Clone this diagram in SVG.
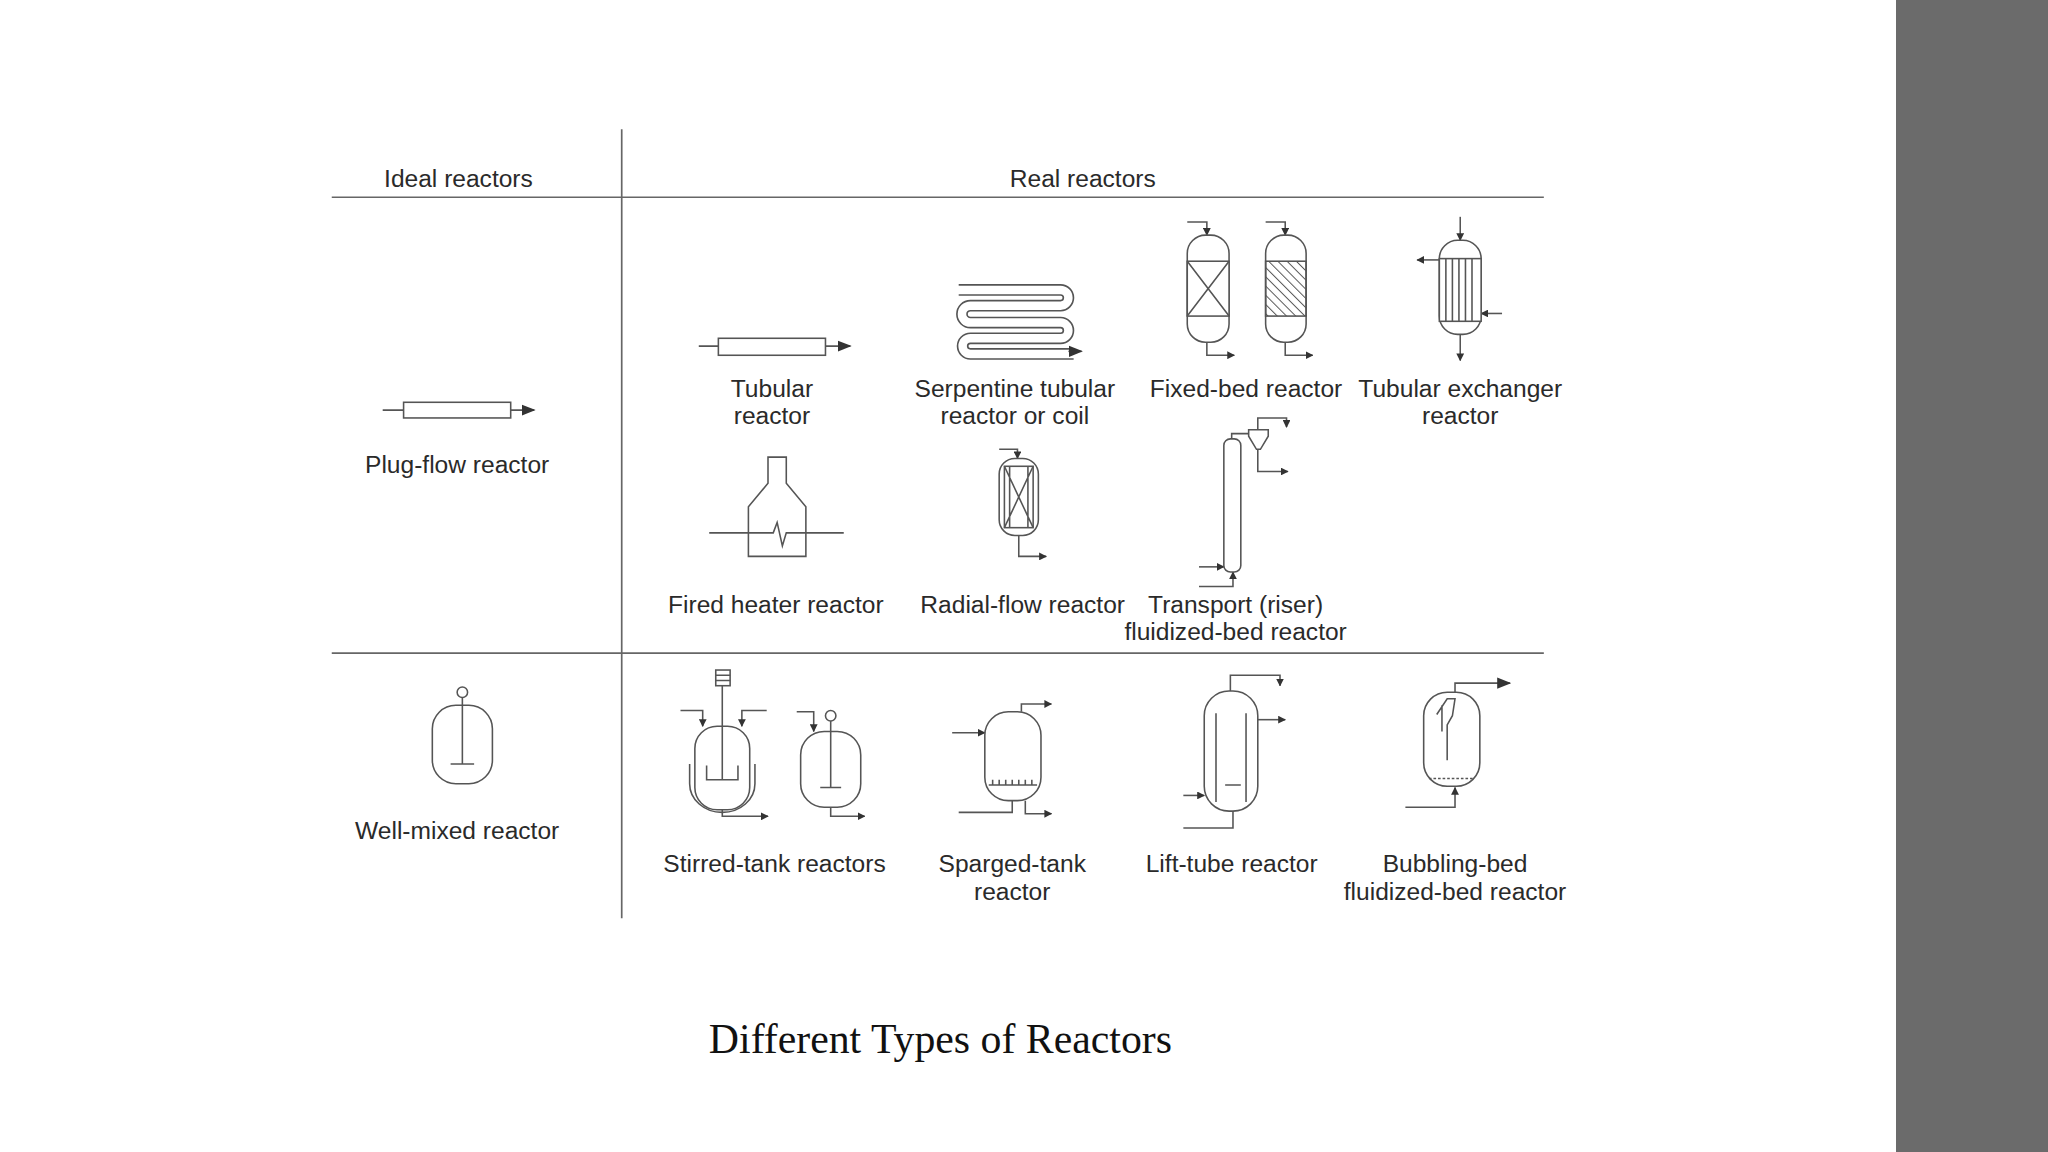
<svg xmlns="http://www.w3.org/2000/svg" width="2048" height="1152" viewBox="0 0 2048 1152">
<style>
.t{font-family:"Liberation Sans",Arial,sans-serif;font-size:18.8px;fill:#2a2a2a;text-anchor:middle}
.s{fill:none;stroke:#555;stroke-width:1.2}
.f{fill:#fff;stroke:#555;stroke-width:1.2}
.g{stroke:#666;stroke-width:1.3}
</style>
<defs>
<marker id="a" viewBox="0 0 10 10" refX="9" refY="5" markerWidth="5" markerHeight="5" orient="auto"><path d="M0 0L10 5L0 10z" fill="#333"/></marker>
<marker id="b" viewBox="0 0 10 10" refX="9" refY="5" markerWidth="9" markerHeight="9" orient="auto"><path d="M0 1L10 5L0 9z" fill="#333"/></marker>
<pattern id="h" width="5" height="5" patternUnits="userSpaceOnUse" patternTransform="rotate(-45)"><line x1="0" y1="0" x2="0" y2="5" stroke="#555" stroke-width="1.5"/></pattern>
</defs>
<rect width="2048" height="1152" fill="#fff"/>
<rect x="1896" y="0" width="152" height="1152" fill="#6b6b6b"/>
<g transform="scale(1.30612)">
<g id="grid">
<line class="g" x1="476" y1="99" x2="476" y2="703"/>
<line class="g" x1="254" y1="151" x2="1182" y2="151"/>
<line class="g" x1="254" y1="500" x2="1182" y2="500"/>
<text class="t" x="351" y="143">Ideal reactors</text>
<text class="t" x="829" y="143">Real reactors</text>
</g>
<g id="connectors">
<path class="s" d="M293 314H309M391 314H409" marker-end="url(#b)"/>
<path class="s" d="M535 265H550M632 265H651" marker-end="url(#b)"/>
<path class="s" d="M909 170H924V180" marker-end="url(#a)"/>
<path class="s" d="M924 262V272H945" marker-end="url(#a)"/>
<path class="s" d="M969 170H984V180" marker-end="url(#a)"/>
<path class="s" d="M984 262V272H1005" marker-end="url(#a)"/>
<path class="s" d="M1118 166V184" marker-end="url(#a)"/>
<path class="s" d="M1102 199H1085" marker-end="url(#a)"/>
<path class="s" d="M1150 240H1134" marker-end="url(#a)"/>
<path class="s" d="M1118 256V276" marker-end="url(#a)"/>
<path class="s" d="M765 344H779V351" marker-end="url(#a)"/>
<path class="s" d="M780 410V426H801" marker-end="url(#a)"/>
<path class="s" d="M918 434H937" marker-end="url(#a)"/>
<path class="s" d="M918 449H944V438" marker-end="url(#a)"/>
<path class="s" d="M943 336V332H957"/>
<path class="s" d="M963 329V320H985V327" marker-end="url(#a)"/>
<path class="s" d="M963 344V361H986" marker-end="url(#a)"/>
<path class="s" d="M521 544H538V556" marker-end="url(#a)"/>
<path class="s" d="M587 544H568V556" marker-end="url(#a)"/>
<path class="s" d="M553 620V625H588" marker-end="url(#a)"/>
<path class="s" d="M610 545H623V560" marker-end="url(#a)"/>
<path class="s" d="M636 618V625H662" marker-end="url(#a)"/>
<path class="s" d="M729 561H754" marker-end="url(#a)"/>
<path class="s" d="M782 545V539H805" marker-end="url(#a)"/>
<path class="s" d="M734 622H775V605" marker-end="url(#a)"/>
<path class="s" d="M785 613V623H805" marker-end="url(#a)"/>
<path class="s" d="M942 529V517H980V525" marker-end="url(#a)"/>
<path class="s" d="M963 551H984" marker-end="url(#a)"/>
<path class="s" d="M906 609H922" marker-end="url(#a)"/>
<path class="s" d="M906 634H944V605" marker-end="url(#a)"/>
<path class="s" d="M1076 618H1114V603" marker-end="url(#a)"/>
<path class="s" d="M1114 535V523H1156" stroke-width="1.8" marker-end="url(#b)"/>
</g>
<g id="plug-flow">
<rect class="f" x="309" y="308" width="82" height="12"/>
<text class="t" x="350" y="362">Plug-flow reactor</text>
</g>
<g id="well-mixed">
<rect class="f" x="331" y="540" width="46" height="60" rx="18"/>
<circle class="f" cx="354" cy="530" r="4"/>
<path class="s" d="M354 534V585M345 585H363"/>
<text class="t" x="350" y="642">Well-mixed reactor</text>
</g>
<g id="tubular">
<rect class="f" x="550" y="259" width="82" height="13"/>
<text class="t" x="591" y="304">Tubular</text><text class="t" x="591" y="325">reactor</text>
</g>
<g id="serpentine">
<path d="M734 222H812a6 6 0 0 1 0 12H743a6 6 0 0 0 0 13H812a6 6 0 0 1 0 12H743a6 6 0 0 0 0 12H822" fill="none" stroke="#555" stroke-width="9"/>
<path d="M733 222H812a6 6 0 0 1 0 12H743a6 6 0 0 0 0 13H812a6 6 0 0 1 0 12H743a6 6 0 0 0 0 12H823" fill="none" stroke="#fff" stroke-width="6.5"/>
<path d="M818 269H828" class="s" marker-end="url(#b)"/>
<text class="t" x="777" y="304">Serpentine tubular</text><text class="t" x="777" y="325">reactor or coil</text>
</g>
<g id="fixed-bed">
<rect class="f" x="909" y="180" width="32" height="82" rx="14"/>
<rect class="f" x="909" y="200" width="32" height="42"/>
<path class="s" d="M909 200L941 242M941 200L909 242"/>
<rect class="f" x="969" y="180" width="31" height="82" rx="14"/>
<rect x="969" y="200" width="31" height="42" fill="url(#h)" stroke="#555" stroke-width="1.2"/>
<text class="t" x="954" y="304">Fixed-bed reactor</text>
</g>
<g id="tubular-exchanger">
<rect class="f" x="1102" y="184" width="32" height="72" rx="14"/>
<rect class="f" x="1102" y="198" width="32" height="48"/>
<path class="s" d="M1107 198V246M1112 198V246M1117 198V246M1122 198V246M1127 198V246"/>
<text class="t" x="1118" y="304">Tubular exchanger</text><text class="t" x="1118" y="325">reactor</text>
</g>
<g id="fired-heater">
<path class="f" d="M588 350H602V370L617 388V426H573V388L588 370Z"/>
<path class="s" d="M543 408H592L595 400L599 418L602 408H646"/>
<text class="t" x="594" y="469">Fired heater reactor</text>
</g>
<g id="radial-flow">
<rect class="f" x="765" y="351" width="30" height="59" rx="12"/>
<rect class="s" x="769" y="357" width="22" height="47"/>
<path class="s" d="M773 357V404M787 357V404M769 357L791 404M791 357L769 404"/>
<text class="t" x="783" y="469">Radial-flow reactor</text>
</g>
<g id="riser">
<rect class="f" x="937" y="336" width="13" height="102" rx="5"/>
<path class="f" d="M956 329H971V334L965 344H962L956 334Z"/>
<text class="t" x="946" y="469">Transport (riser)</text><text class="t" x="946" y="490">fluidized-bed reactor</text>
</g>
<g id="stirred-tank">
<path class="s" d="M528 585V600A25 22 0 0 0 578 600V585"/>
<rect class="f" x="532" y="556" width="42" height="64" rx="17"/>
<rect class="f" x="548" y="513" width="11" height="12"/>
<path class="s" d="M548 517H559M548 521H559M553 525V597M541 586V597H565V586"/>
<rect class="f" x="613" y="560" width="46" height="58" rx="18"/>
<circle class="f" cx="636" cy="548" r="4"/>
<path class="s" d="M636 552V603M628 603H644"/>
<text class="t" x="593" y="668">Stirred-tank reactors</text>
</g>
<g id="sparged">
<rect class="f" x="754" y="545" width="43" height="68" rx="18"/>
<path class="s" d="M757 601H794M760 601V597M765 601V597M770 601V597M775 601V597M780 601V597M785 601V597M790 601V597"/>
<text class="t" x="775" y="668">Sparged-tank</text><text class="t" x="775" y="689">reactor</text>
</g>
<g id="lift-tube">
<rect class="f" x="922" y="529" width="41" height="92" rx="19"/>
<path class="s" d="M931 546V614M954 546V614M938 601H950"/>
<text class="t" x="943" y="668">Lift-tube reactor</text>
</g>
<g id="bubbling-bed">
<rect class="f" x="1090" y="530" width="43" height="72" rx="18"/>
<path class="s" d="M1094 596H1129" stroke-dasharray="2 1.5"/>
<path class="s" d="M1100 547L1108 535L1114 535L1112 548L1108 555V582M1104 540L1104 560"/>
<text class="t" x="1114" y="668">Bubbling-bed</text><text class="t" x="1114" y="689">fluidized-bed reactor</text>
</g>
<text x="720" y="806" font-family="Liberation Serif,'Times New Roman',serif" font-size="32" fill="#111" text-anchor="middle">Different Types of Reactors</text>
</g>
</svg>
